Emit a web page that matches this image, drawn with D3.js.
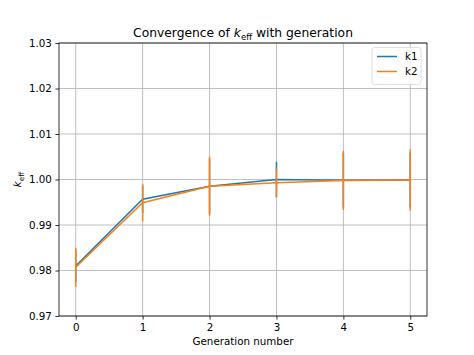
<!DOCTYPE html>
<html><head><meta charset="utf-8">
<script src="https://cdn.jsdelivr.net/npm/d3@7"></script>
<style>body{margin:0;background:#fff}svg{display:block}text{font-family:"DejaVu Sans",sans-serif;fill:#000}</style>
</head><body><svg id="c" width="474" height="355"></svg>
<script>
const generations = [0, 1, 2, 3, 4, 5];
const k1 = [0.9810, 0.99565, 0.9985, 1.0000, 0.99985, 0.9999];
const k1Err = [0.0035, 0.0030, 0.0060, 0.0039, 0.0060, 0.0060];
const k2 = [0.9807, 0.9949, 0.9985, 0.9993, 0.9998, 0.9999];
const k2Err = [0.0043, 0.0041, 0.0065, 0.0031, 0.0065, 0.0067];
const xTicks = [0, 1, 2, 3, 4, 5];
const yTicks = [0.97, 0.98, 0.99, 1.00, 1.01, 1.02, 1.03];
const seriesNames = ["k1", "k2"];
const colors = ["#1f77b4", "#ff7f0e"];

const svg = d3.select("#c");
const L = 59, R = 427, T = 43, B = 316;
const x = d3.scaleLinear().domain([-0.25, 5.25]).range([L, R]);
const y = d3.scaleLinear().domain([0.97, 1.03]).range([B, T]);

// grid
const g = svg.append("g");
g.selectAll(".gx").data(xTicks).join("line")
  .attr("x1", d => x(d)).attr("x2", d => x(d)).attr("y1", T).attr("y2", B)
  .attr("stroke", "#b0b0b0").attr("stroke-width", 0.8);
g.selectAll(".gy").data(yTicks).join("line")
  .attr("y1", d => y(d)).attr("y2", d => y(d)).attr("x1", L).attr("x2", R)
  .attr("stroke", "#b0b0b0").attr("stroke-width", 0.8);

const series = [
  {name: seriesNames[0], v: k1, e: k1Err, c: colors[0]},
  {name: seriesNames[1], v: k2, e: k2Err, c: colors[1]}
];
const line = d3.line().x((d, i) => x(generations[i])).y(d => y(d));
const clip = svg.append("clipPath").attr("id", "clp").append("rect")
  .attr("x", L).attr("y", T).attr("width", R - L).attr("height", B - T);
const plot = svg.append("g").attr("clip-path", "url(#clp)");
series.forEach(s => {
  const sg = plot.append("g");
  sg.append("path").attr("d", line(s.v)).attr("fill", "none")
    .attr("stroke", s.c).attr("stroke-width", 1.5);
  sg.selectAll("line.eb").data(s.v).join("line")
    .attr("x1", (d, i) => x(generations[i])).attr("x2", (d, i) => x(generations[i]))
    .attr("y1", (d, i) => y(d - s.e[i])).attr("y2", (d, i) => y(d + s.e[i]))
    .attr("stroke", s.c).attr("stroke-width", 1.5);
});

// axes
const fs = "10.3px";
const xa = svg.append("g").attr("transform", `translate(0,${B})`)
  .call(d3.axisBottom(x).tickValues(xTicks).tickFormat(d3.format("d")).tickSize(3.6).tickPadding(3.6));
const ya = svg.append("g").attr("transform", `translate(${L},0)`)
  .call(d3.axisLeft(y).tickValues(yTicks).tickFormat(d3.format(".2f")).tickSize(3.6).tickPadding(3.6));
[xa, ya].forEach(a => {
  a.select(".domain").remove();
  a.selectAll("line").attr("stroke", "#000").attr("stroke-width", 0.8);
  a.selectAll("text").style("font-size", fs).attr("font-family", "DejaVu Sans");
});
svg.append("rect").attr("x", L).attr("y", T).attr("width", R - L).attr("height", B - T)
  .attr("fill", "none").attr("stroke", "#000").attr("stroke-width", 0.8);

// labels
svg.append("text").attr("x", (L + R) / 2).attr("y", 344.5).attr("text-anchor", "middle")
  .style("font-size", fs).text("Generation number");
const yl = svg.append("text").attr("transform", `translate(21,${(T + B) / 2}) rotate(-90)`)
  .attr("text-anchor", "middle").style("font-size", fs);
yl.append("tspan").attr("font-style", "italic").text("k");
yl.append("tspan").attr("dy", 2.5).style("font-size", "7.2px").text("eff");

const tt = svg.append("text").attr("x", (L + R) / 2).attr("y", 37).attr("text-anchor", "middle")
  .style("font-size", "12.3px");
tt.append("tspan").text("Convergence of ");
tt.append("tspan").attr("font-style", "italic").text("k");
tt.append("tspan").attr("dy", 3).style("font-size", "8.6px").text("eff");
tt.append("tspan").attr("dy", -3).text(" with generation");

// legend
const lg = svg.append("g");
lg.append("rect").attr("x", 372).attr("y", 47.5).attr("width", 49).attr("height", 37).attr("rx", 2.5)
  .attr("fill", "#fff").attr("fill-opacity", 0.8).attr("stroke", "#d6d6d6").attr("stroke-width", 0.8);
series.forEach((s, i) => {
  const yy = 56.5 + i * 15;
  lg.append("line").attr("x1", 377).attr("x2", 397).attr("y1", yy).attr("y2", yy)
    .attr("stroke", s.c).attr("stroke-width", 1.5);
  lg.append("text").attr("x", 405).attr("y", yy + 3.7).style("font-size", fs).text(s.name);
});
</script></body></html>
